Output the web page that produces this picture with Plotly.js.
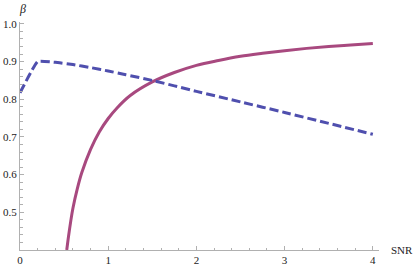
<!DOCTYPE html>
<html>
<head>
<meta charset="utf-8">
<script src="https://cdn.plot.ly/plotly-3.0.1.min.js"></script>
<style>html,body{margin:0;padding:0;background:#fff;}#chart{width:415px;height:269px;}</style>
</head>
<body>
<div id="chart"></div>
<script>
// Dashed (blue) series
const dashedX = [0, 0.2, 0.4, 0.6, 0.8, 1.0, 1.2, 1.5, 2.0, 2.5, 3.0, 3.5, 4.0];
const dashedY = [0.817, 0.900, 0.898, 0.892, 0.884, 0.875, 0.865, 0.850, 0.821, 0.793, 0.765, 0.736, 0.707];
// Solid (magenta) series
const solidX = [0.53, 0.55, 0.575, 0.6, 0.65, 0.7, 0.8, 0.9, 1.0, 1.1, 1.25, 1.5, 1.75, 2.0, 2.25, 2.5, 2.75, 3.0, 3.25, 3.5, 3.75, 4.0];
const solidY = [0.40, 0.436, 0.476, 0.511, 0.563, 0.605, 0.667, 0.714, 0.749, 0.777, 0.81, 0.846, 0.871, 0.890, 0.903, 0.914, 0.922, 0.929, 0.935, 0.940, 0.944, 0.948];
// Ticks
const xTicks = [0, 1, 2, 3, 4];
const xTickText = ["0", "1", "2", "3", "4"];
const yTicks = [0.5, 0.6, 0.7, 0.8, 0.9, 1.0];
const yTickText = ["0.5", "0.6", "0.7", "0.8", "0.9", "1.0"];

const serif = '"Liberation Serif", "Times New Roman", serif';
const traces = [
  {x: solidX, y: solidY, mode: 'lines', line: {color: '#a8497f', width: 3, shape: 'spline', smoothing: 1}, hoverinfo: 'none'},
  {x: dashedX, y: dashedY, mode: 'lines', line: {color: '#4f4fae', width: 3, dash: '9px,4px', shape: 'spline', smoothing: 0.3}, hoverinfo: 'none'}
];
function axisBase() {
  return {
    showgrid: false, zeroline: false, showline: true, linecolor: '#b0b0b0', linewidth: 1,
    ticks: 'inside', ticklen: 4, tickcolor: '#b0b0b0', tickwidth: 1,
    tickfont: {family: serif, size: 11, color: '#222'}
  };
}
const layout = {
  width: 415, height: 269,
  margin: {l: 19.5, r: 36, t: 22, b: 19},
  paper_bgcolor: '#fff', plot_bgcolor: '#fff',
  showlegend: false,
  font: {family: serif, size: 11, color: '#222'},
  xaxis: Object.assign(axisBase(), {
    range: [0, 4.07], tickmode: 'array', tickvals: xTicks, ticktext: xTickText,
    minor: {ticks: 'inside', ticklen: 2.5, tick0: 0, dtick: 0.2, tickcolor: '#b0b0b0', tickwidth: 1}
  }),
  yaxis: Object.assign(axisBase(), {
    range: [0.4, 1.005], tickmode: 'array', tickvals: yTicks, ticktext: yTickText,
    minor: {ticks: 'inside', ticklen: 2.5, tick0: 0.4, dtick: 0.02, tickcolor: '#b0b0b0', tickwidth: 1}
  }),
  annotations: [
    {text: 'SNR', xref: 'paper', yref: 'paper', x: 1, y: 0, xshift: 10, xanchor: 'left', yanchor: 'middle', showarrow: false,
     font: {family: serif, size: 11, color: '#222'}},
    {text: '<i>β</i>', xref: 'paper', yref: 'paper', x: 0, y: 1, yshift: 4, xshift: 2, xanchor: 'center', yanchor: 'bottom', showarrow: false,
     font: {family: serif, size: 12, color: '#222'}}
  ]
};
Plotly.newPlot('chart', traces, layout, {staticPlot: true, displayModeBar: false});
</script>
</body>
</html>
